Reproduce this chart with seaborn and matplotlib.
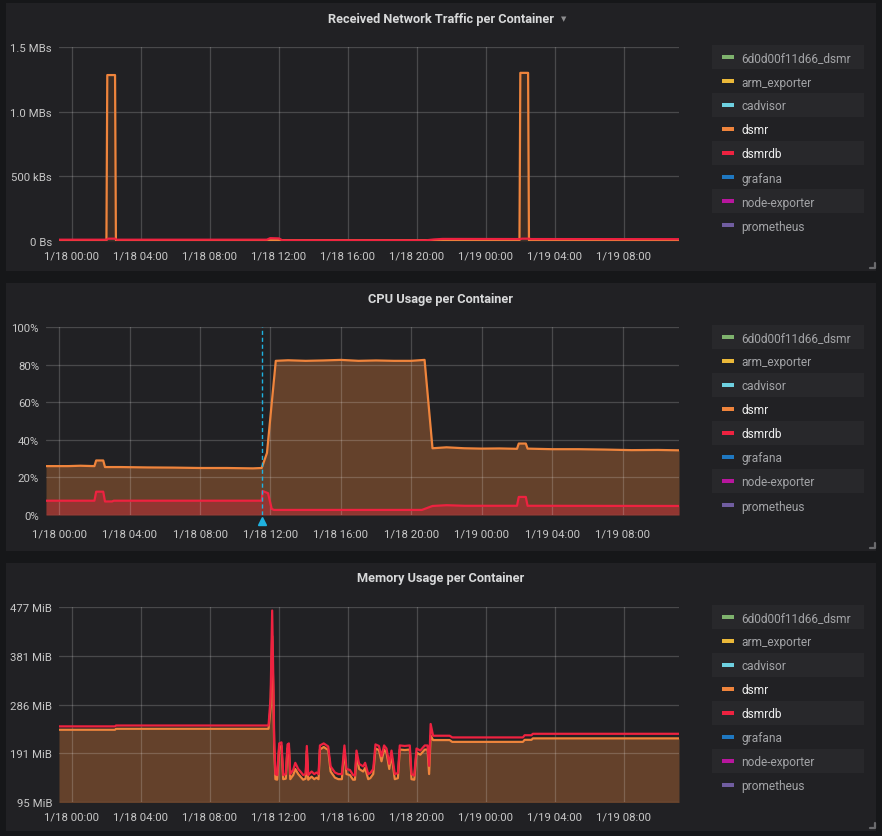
import matplotlib
matplotlib.use("Agg")
import matplotlib.pyplot as plt
import matplotlib.dates as mdates
from matplotlib.patches import Rectangle
from matplotlib.lines import Line2D
import seaborn as sns
import pandas as pd

# ---------------- data (hours since 1/18 00:00) ----------------
x_start_h = -0.75
x_end_h = 35.2

legend_names = ["6d0d00f11d66_dsmr", "arm_exporter", "cadvisor", "dsmr",
                 "dsmrdb", "grafana", "node-exporter", "prometheus"]
legend_colors = ["#7EB26D", "#EAB839", "#6ED0E0", "#EF843C",
                 "#EE2240", "#1F78C1", "#B8169E", "#705DA0"]

# Received network traffic (B/s)
net_dsmr_t = [-0.75, 2.0, 2.05, 2.5, 2.55, 25.95, 26.0, 26.45, 26.5, 35.2]
net_dsmr_v = [6e3, 6e3, 1.283e6, 1.283e6, 6e3, 6e3, 1.30e6, 1.30e6, 6e3, 6e3]
net_dsmrdb_t = [-0.75, 2.0, 2.1, 2.5, 2.6, 11.3, 11.5, 12.0, 12.2, 20.5, 21.0, 21.5, 26.0, 26.1, 26.5, 26.6, 35.2]
net_dsmrdb_v = [10e3, 10e3, 18e3, 18e3, 10e3, 10e3, 22e3, 20e3, 5e3, 5e3, 12e3, 16e3, 15e3, 18e3, 18e3, 15e3, 14e3]

# CPU usage (%)
cpu_dsmr_t = [-0.75, 0.5, 1.2, 2.0, 2.1, 2.5, 2.6, 3.5, 5.0, 6.5, 8.0, 9.5, 11.0, 11.5, 11.8,
              12.3, 13.0, 14.0, 15.0, 16.0, 17.0, 18.0, 19.0, 20.0, 20.75, 21.2, 22.0, 23.0,
              24.0, 25.0, 26.0, 26.1, 26.5, 26.6, 28.0, 29.5, 31.0, 32.5, 34.0, 35.2]
cpu_dsmr_v = [26, 26, 26.2, 26, 29, 29, 25.5, 25.5, 25.3, 25.2, 25, 25, 24.8, 25, 33,
              82, 82.3, 82, 82.2, 82.5, 82, 82.2, 82, 82, 82.5, 35.5, 36, 35.5,
              35.3, 35.4, 35.2, 38, 38, 35.3, 35, 35, 34.8, 34.5, 34.6, 34.4]
cpu_dsmrdb_t = [-0.75, 2.0, 2.1, 2.5, 2.6, 3.0, 3.1, 11.5, 11.55, 11.86, 12.07, 12.2, 20.6,
                21.2, 22.0, 23.0, 26.0, 26.1, 26.5, 26.6, 35.2]
cpu_dsmrdb_v = [7.6, 7.6, 12.4, 12.4, 7.2, 7.2, 7.6, 7.6, 12.8, 11.6, 3.2, 2.7, 2.7,
                4.8, 5.2, 4.9, 4.9, 9.6, 9.6, 4.9, 4.8]
cpu_annotation_h = 11.52

# Memory usage (MiB)
mem_t = [-0.75, 2.5, 2.55, 11.40, 11.52, 11.61, 11.68, 11.73, 11.80, 11.90, 12.02, 12.15,
         12.25, 12.40, 12.50, 12.58, 12.66, 12.83, 12.95, 13.12, 13.25, 13.41, 13.55, 13.62,
         13.70, 13.90, 14.05, 14.18, 14.30, 14.38, 14.60, 14.86, 15.00, 15.25, 15.45, 15.65,
         15.80, 15.92, 16.12, 16.30, 16.41, 16.50, 16.65, 16.89, 17.00, 17.18, 17.30, 17.47,
         17.60, 17.80, 17.95, 18.10, 18.24, 18.40, 18.53, 18.72, 18.90, 19.01, 19.30, 19.59,
         19.69, 19.85, 19.98, 20.20, 20.46, 20.62, 20.71, 20.80, 20.94, 21.90, 22.05, 26.15,
         26.25, 26.65, 26.72, 35.2]
mem_dsmrdb_v = [243.3, 243.3, 245, 245, 300, 470, 330, 212, 150, 148, 210, 212,
                148, 150, 208, 210, 150, 158, 172, 160, 155, 148, 150, 205,
                148, 155, 150, 153, 150, 206, 210, 204, 165, 153, 150, 150,
                206, 160, 158, 148, 147, 196, 170, 165, 172, 150, 152, 160,
                208, 205, 185, 206, 200, 170, 196, 150, 152, 206, 205, 206,
                150, 147, 200, 196, 206, 206, 166, 248, 225, 225, 221.7, 221.7,
                226, 226, 228.8, 228.8]
mem_dsmr_v = [236.7, 236.7, 238.6, 238.6, 280, 420, 300, 200, 140, 139, 203, 205,
              140, 141, 200, 203, 140, 148, 160, 150, 145, 139, 141, 195,
              139, 145, 140, 143, 140, 198, 203, 197, 155, 143, 140, 140,
              198, 150, 148, 139, 139, 188, 160, 155, 162, 140, 142, 150,
              200, 197, 175, 198, 192, 160, 188, 140, 142, 198, 197, 198,
              140, 139, 192, 188, 198, 198, 150, 225, 216.5, 216.5, 213, 213,
              217, 217, 219.8, 219.8]

net_ticks = [0, 500e3, 1.0e6, 1.5e6]
net_labels = ["0 Bs", "500 kBs", "1.0 MBs", "1.5 MBs"]
cpu_ticks = [0, 20, 40, 60, 80, 100]
cpu_labels = ["0%", "20%", "40%", "60%", "80%", "100%"]
mem_ticks = [95.37, 190.73, 286.10, 381.47, 476.84]
mem_labels = ["95 MiB", "191 MiB", "286 MiB", "381 MiB", "477 MiB"]

titles = ["Received Network Traffic per Container", "CPU Usage per Container",
          "Memory Usage per Container"]

# ---------------- style ----------------
sns.set_theme(style="dark")
plt.rcParams["font.family"] = ["Roboto", "DejaVu Sans"]

BG = "#161719"
PANEL = "#212124"
ROW = "#28282b"
TICK = "#c7c7c7"
TITLE = "#d8d9da"
ORANGE = legend_colors[3]
RED = legend_colors[4]

W, H = 882, 837
fig = plt.figure(figsize=(W / 100, H / 100), dpi=100, facecolor=BG)

base = pd.Timestamp("2020-01-18")


def to_time(hours):
    return base + pd.to_timedelta(hours, unit="h")


def fx(px):
    return px / W


def fy(py):
    return 1 - py / H


panel_offsets = [0, 280, 560]
for off in panel_offsets:
    fig.patches.append(Rectangle((fx(6), fy(off + 272)), fx(870), (268) / H,
                                 transform=fig.transFigure, facecolor=PANEL,
                                 edgecolor="none", zorder=-5))
    # resize handle
    fig.lines.append(Line2D([fx(870), fx(875), fx(875)],
                            [fy(off + 269), fy(off + 269), fy(off + 264)],
                            transform=fig.transFigure, color="#6b6b6e", lw=1.6))

axes_rects = [
    [fx(59), fy(242), fx(620), 194 / H],
    [fx(46), fy(516), fx(633), 188 / H],
    [fx(59), fy(803), fx(620), 195 / H],
]


def date_fmt(x, pos=None):
    d = mdates.num2date(x)
    return f"{d.month}/{d.day} {d:%H:%M}"


def style_ax(ax, ticks, labels, ylim, xpad=7):
    ax.set_facecolor(PANEL)
    for s in ax.spines.values():
        s.set_visible(False)
    ax.set_xlim(to_time(x_start_h), to_time(x_end_h))
    ax.set_ylim(*ylim)
    ax.set_yticks(ticks)
    ax.set_yticklabels(labels)
    ax.xaxis.set_major_locator(mdates.HourLocator(byhour=range(0, 24, 4)))
    ax.xaxis.set_major_formatter(plt.FuncFormatter(date_fmt))
    ax.grid(True, color="#ffffff", alpha=0.18, lw=0.9)
    ax.set_axisbelow("line")
    ax.tick_params(axis="both", colors=TICK, labelsize=8.2, length=0)
    ax.tick_params(axis="x", pad=xpad)
    ax.tick_params(axis="y", pad=5)
    ax.set_xlabel("")
    ax.set_ylabel("")


# ---- panel 1: network ----
ax1 = fig.add_axes(axes_rects[0])
nd = pd.DataFrame({"t": to_time(net_dsmr_t), "v": net_dsmr_v})
ndb = pd.DataFrame({"t": to_time(net_dsmrdb_t), "v": net_dsmrdb_v})
ax1.fill_between(nd["t"], 0, nd["v"], color=ORANGE, alpha=0.12, lw=0, zorder=1)
sns.lineplot(data=nd, x="t", y="v", ax=ax1, color=ORANGE, lw=1.6, estimator=None, sort=False, zorder=3)
sns.lineplot(data=ndb, x="t", y="v", ax=ax1, color=RED, lw=1.6, estimator=None, sort=False, zorder=3)
style_ax(ax1, net_ticks, net_labels, (0, 1.5e6))

# ---- panel 2: cpu ----
ax2 = fig.add_axes(axes_rects[1])
cd = pd.DataFrame({"t": to_time(cpu_dsmr_t), "v": cpu_dsmr_v})
cdb = pd.DataFrame({"t": to_time(cpu_dsmrdb_t), "v": cpu_dsmrdb_v})
ax2.fill_between(cd["t"], 0, cd["v"], color=ORANGE, alpha=0.33, lw=0, zorder=1)
ax2.fill_between(cdb["t"], 0, cdb["v"], color=RED, alpha=0.33, lw=0, zorder=1)
sns.lineplot(data=cd, x="t", y="v", ax=ax2, color=ORANGE, lw=1.6, estimator=None, sort=False, zorder=3)
sns.lineplot(data=cdb, x="t", y="v", ax=ax2, color=RED, lw=1.6, estimator=None, sort=False, zorder=3)
style_ax(ax2, cpu_ticks, cpu_labels, (0, 100), xpad=10)
ann_t = to_time(cpu_annotation_h)
ax2.axvline(ann_t, color="#1FB2E0", lw=1.0, ls=(0, (3, 2)), zorder=4)
ax2.plot([ann_t], [-3.4], marker="^", color="#1FB2E0", markersize=5.5, clip_on=False, zorder=5)

# ---- panel 3: memory ----
ax3 = fig.add_axes(axes_rects[2])
md = pd.DataFrame({"t": to_time(mem_t), "dsmr": mem_dsmr_v, "dsmrdb": mem_dsmrdb_v})
ax3.fill_between(md["t"], 0, md["dsmr"], color=ORANGE, alpha=0.33, lw=0, zorder=1)
sns.lineplot(data=md, x="t", y="dsmr", ax=ax3, color=ORANGE, lw=1.6, estimator=None, sort=False, zorder=3)
sns.lineplot(data=md, x="t", y="dsmrdb", ax=ax3, color=RED, lw=1.6, estimator=None, sort=False, zorder=3)
style_ax(ax3, mem_ticks, mem_labels, (95.37, 476.84))

for ax in (ax1, ax2, ax3):
    leg = ax.get_legend()
    if leg:
        leg.remove()

# ---- titles and legends ----
for k, off in enumerate(panel_offsets):
    fig.text(fx(441), fy(off + 19), titles[k], ha="center", va="center",
             color=TITLE, fontsize=9.2, fontweight="bold")
    if k == 0:
        fig.text(fx(564), fy(off + 19), "▼", ha="center", va="center",
                 color="#8e8e90", fontsize=5, family=["DejaVu Sans"])
    for i, (name, col) in enumerate(zip(legend_names, legend_colors)):
        cy = off + 58 + 24 * i
        if i % 2 == 0:
            fig.patches.append(Rectangle((fx(712), fy(cy + 12)), fx(152), 24 / H,
                                         transform=fig.transFigure, facecolor=ROW,
                                         edgecolor="none", zorder=-4))
        fig.patches.append(Rectangle((fx(722), fy(cy + 2)), fx(12), 4 / H,
                                     transform=fig.transFigure, facecolor=col,
                                     edgecolor="none", zorder=1))
        tc = "#eeeeee" if name in ("dsmr", "dsmrdb") else "#a3a4a7"
        fig.text(fx(741), fy(cy + 1), name, ha="left", va="center", color=tc, fontsize=8.6)

fig.savefig("out.png", dpi=100, facecolor=BG)
